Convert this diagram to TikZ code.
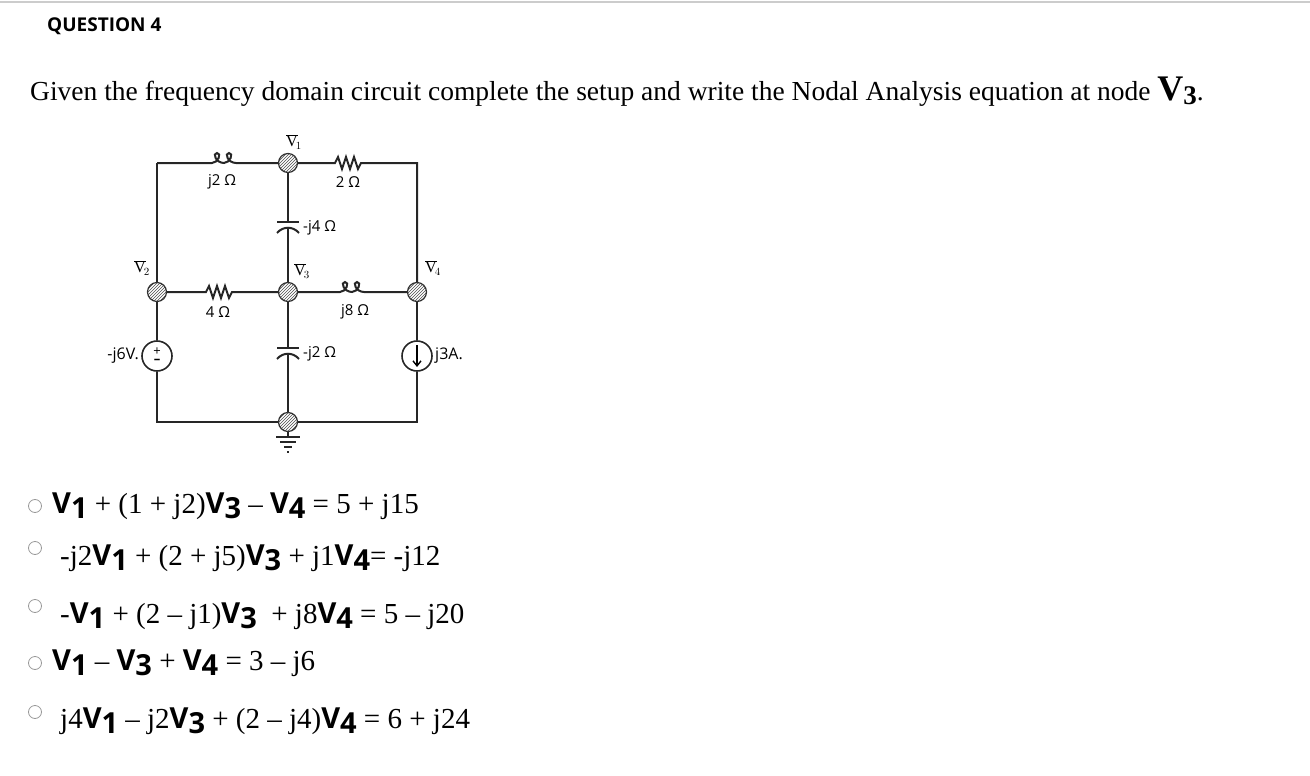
\documentclass[tikz,border=0pt]{standalone}
\usepackage{fontspec}
\setmainfont{Liberation Serif}
\newfontfamily\hd{Open Sans}
\newfontfamily\vb{Open Sans}
\usetikzlibrary{patterns,arrows.meta}
\begin{document}
\begin{tikzpicture}[x=1pt,y=-1pt,
  wire/.style={line width=2pt,black!85},
  nd/.style={circle,draw=black!80,line width=1.2pt,minimum size=19pt,inner sep=0pt,fill=gray!50,pattern=north east lines,pattern color=black!70},
  lbl/.style={font=\hd\fontsize{15}{15}\selectfont,inner sep=1pt},
  ans/.style={anchor=west,inner sep=0pt,font=\fontsize{29}{29}\selectfont},
  radio/.style={circle,draw=gray!80,line width=0.8pt,minimum size=13pt,inner sep=0pt}]
\useasboundingbox (0,0) rectangle (1310,776);
\draw[gray!40,line width=1.5pt] (0,2) -- (1310,2);
\node[anchor=west,inner sep=0pt,font=\hd\bfseries\fontsize{19}{19}\selectfont] (q) at (47,26) {QUESTION 4};
\node[anchor=base west,inner sep=0pt,font=\fontsize{27.5}{27.5}\selectfont] (g) at (30,100) {Given the frequency domain circuit complete the setup and write the Nodal Analysis equation at node \textbf{\fontsize{36}{36}\selectfont V\raisebox{-4pt}{\fontsize{27}{27}\selectfont 3}}.};
% coordinates
\coordinate (tl) at (157,163); \coordinate (tr) at (417,163);
\coordinate (bl) at (157,422); \coordinate (br) at (417,422);
\node[nd] (n1) at (288,163) {};
\node[nd] (n2) at (157,292) {};
\node[nd] (n3) at (288,292) {};
\node[nd] (n4) at (417,292) {};
\node[nd] (n0) at (288,422) {};
% top left inductor
\draw[wire] (tl) -- (212,163) .. controls (218,163) and (222,153) .. (217,153) .. controls (212,153) and (216,163) .. (224,163) .. controls (230,163) and (234,153) .. (229,153) .. controls (224,153) and (228,163) .. (236,163) -- (n1);
\draw[wire] (tl) -- (n2);
\node[lbl] (l1) at (222,182) {j2 Ω};
% top right resistor
\draw[wire] (n1) -- (335,163) -- (338,157) -- (342,169) -- (346,157) -- (350,169) -- (354,157) -- (358,169) -- (361,163) -- (tr) -- (n4);
\node[lbl] (l2) at (348,182) {2 Ω};
% cap -j4
\draw[wire] (n1) -- (288,222);
\draw[wire] (277,222) -- (299,222);
\draw[wire] (277,233) .. controls (283,226) and (293,226) .. (299,233);
\draw[wire] (288,227.5) -- (n3);
\node[lbl,anchor=west] (l3) at (302,228) {-j4 Ω};
% 4 ohm
\draw[wire] (n2) -- (206,292) -- (209,286) -- (213,298) -- (217,286) -- (221,298) -- (225,286) -- (229,298) -- (232,292) -- (n3);
\node[lbl] (l4) at (218,312) {4 Ω};
% j8
\draw[wire] (n3) -- (340,292) .. controls (346,292) and (350,282) .. (345,282) .. controls (340,282) and (344,292) .. (352,292) .. controls (358,292) and (362,282) .. (357,282) .. controls (352,282) and (356,292) .. (364,292) -- (n4);
\node[lbl] (l5) at (355,312) {j8 Ω};
% voltage source
\node[circle,draw=black!85,line width=1.6pt,minimum size=30pt,inner sep=0pt,font=\hd\fontsize{13}{9}\selectfont,align=center] (vs) at (157,356) {+\\[-1pt]\textbf{\textendash}};
\draw[wire] (n2) -- (vs.north); \draw[wire] (vs.south) -- (bl) -- (n0);
\node[lbl,anchor=east,font=\hd\fontsize{16}{16}\selectfont] (l6) at (140,356) {-j6V.};
% cap -j2
\draw[wire] (n3) -- (288,348);
\draw[wire] (277,348) -- (299,348);
\draw[wire] (277,359) .. controls (283,352) and (293,352) .. (299,359);
\draw[wire] (288,353.5) -- (n0);
\node[lbl,anchor=west] (l7) at (302,354) {-j2 Ω};
% current source
\node[circle,draw=black!85,line width=1.6pt,minimum size=30pt,inner sep=0pt] (cs) at (417,356) {};
\draw[line width=1.4pt,-{Straight Barb[length=5pt,width=8pt]}] (417,345) -- (417,367);
\draw[wire] (n4) -- (cs.north); \draw[wire] (cs.south) -- (br) -- (n0);
\node[lbl,anchor=west,font=\hd\fontsize{16}{16}\selectfont] (l8) at (434,356) {j3A.};
% ground
\draw[wire] (n0) -- (288,437);
\draw[wire] (276,437) -- (300,437); \draw[wire] (280,442) -- (296,442); \draw[wire] (284,447) -- (292,447); \draw[wire] (287,452) -- (289,452);
% node labels
\node[lbl,font=\hd\fontsize{16}{16}\selectfont] (v1) at (294,142) {$\overline{\mathrm{V}}_{\!1}$};
\node[lbl,font=\hd\fontsize{16}{16}\selectfont] (v2) at (142,268) {$\overline{\mathrm{V}}_{\!2}$};
\node[lbl,font=\hd\fontsize{16}{16}\selectfont] (v3) at (302,271) {$\overline{\mathrm{V}}_{\!3}$};
\node[lbl,font=\hd\fontsize{16}{16}\selectfont] (v4) at (433,268) {$\overline{\mathrm{V}}_{\!4}$};
% answers
\newcommand{\VV}[1]{{\vb\bfseries V\raisebox{-5pt}{#1}}}
\foreach \y/\yy in {506/r1,548/r2,606/r3,663/r4,712/r5}{\node[radio] (\yy) at (35,\y) {};}
\node[ans] (a1) at (52,506) {\VV{1} + (1 + j2)\VV{3} -- \VV{4} = 5 + j15};
\node[ans] (a2) at (60,558) {-j2\VV{1} + (2 + j5)\VV{3} + j1\VV{4}= -j12};
\node[ans] (a3) at (60,616) {-\VV{1} + (2 -- j1)\VV{3} \ + j8\VV{4} = 5 -- j20};
\node[ans] (a4) at (52,663) {\VV{1} -- \VV{3} + \VV{4} = 3 -- j6};
\node[ans] (a5) at (60,721) {j4\VV{1} -- j2\VV{3} + (2 -- j4)\VV{4} = 6 + j24};
\end{tikzpicture}
\end{document}
